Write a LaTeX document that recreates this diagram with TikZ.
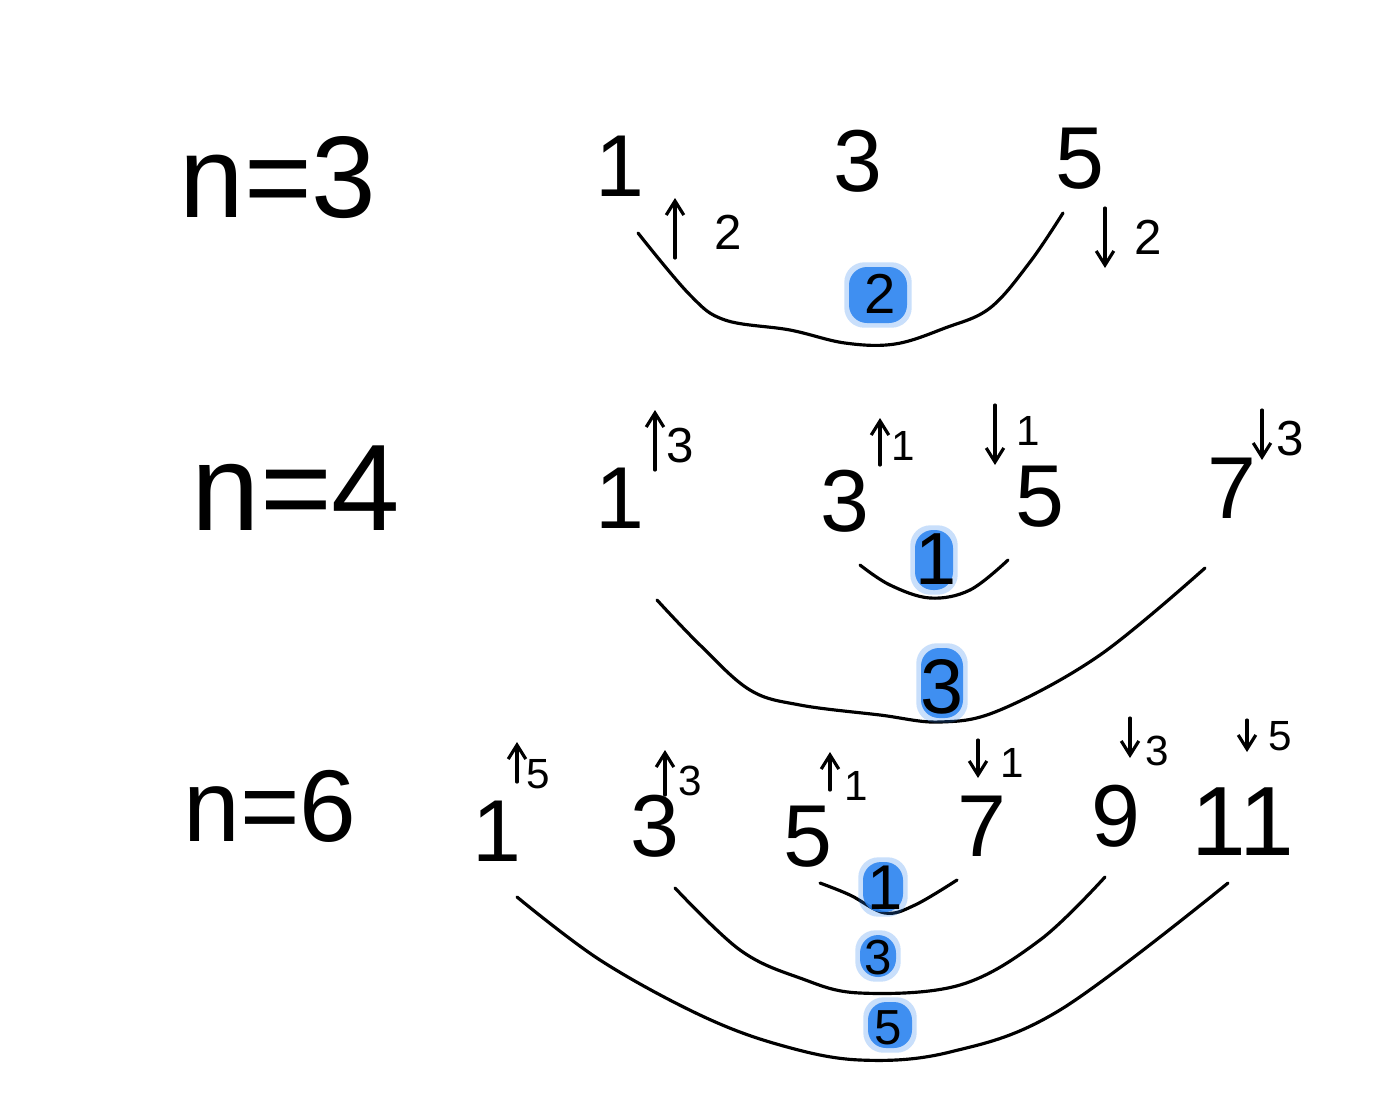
\documentclass[tikz,border=0pt]{standalone}
\usepackage{fontspec}
\setmainfont{Liberation Sans}
\usetikzlibrary{arrows.meta}
\definecolor{blobblue}{RGB}{40,130,240}
\tikzset{
  ink/.style={line width=0.9pt, line cap=round, line join=round},
  big/.style={font=\fontsize{33}{33}\selectfont, inner sep=0pt, text height=24pt, text depth=0pt},
  num/.style={font=\fontsize{25}{25}\selectfont, inner sep=0pt, text height=18pt, text depth=0pt},
  small/.style={font=\fontsize{12}{12}\selectfont, inner sep=0pt, text height=8.6pt, text depth=0pt},
  bnum/.style={inner sep=0pt, text depth=0pt},
  arr/.style={ink, -{Straight Barb[length=4pt,width=5pt]}},
  blob/.style={fill=blobblue, fill opacity=0.85, draw=none, rounded corners=18*0.01cm, inner sep=0pt,
    append after command={\pgfextra{\fill[blobblue, opacity=0.25, rounded corners=20*0.01cm]
      ([shift={(-4,4)}]\tikzlastnode.south west) rectangle ([shift={(4,-4)}]\tikzlastnode.north east);}}}
}
\begin{document}
\begin{tikzpicture}[x=0.01cm, y=-0.01cm]
\useasboundingbox (0,0) rectangle (1400,1099);
\fill[white] (0,0) rectangle (1400,1099);

% ---------- n = 3 ----------
\node[big] (n3) at (278,175) {n=3};
\node[num] (r1a) at (620,165) {1};
\node[num] (r1b) at (858,160) {3};
\node[num] (r1c) at (1080,157) {5};
\coordinate (r1u1) at (675,258); \coordinate (r1u2) at (675,198);
\draw[arr] (r1u1) -- (r1u2);
\node[small, font=\fontsize{14}{14}\selectfont, text height=10pt] (r1l1) at (728,232) {2};
\coordinate (r1d1) at (1105,208); \coordinate (r1d2) at (1105,268);
\draw[arr] (r1d1) -- (r1d2);
\node[small, font=\fontsize{14}{14}\selectfont, text height=10pt] (r1l2) at (1148,237) {2};
\draw[ink] plot[smooth, tension=0.6] coordinates {(638,233) (690,295) (725,320) (790,330) (845,343) (895,344) (945,328) (990,308) (1030,262) (1063,213)};
\node[blob, minimum width=58*0.01cm, minimum height=56*0.01cm] (b1) at (878,295) {};
\node[bnum, font=\fontsize{16}{16}\selectfont, text height=11.5pt] (b1t) at (880,293) {2};

% ---------- n = 4 ----------
\node[big, font=\fontsize{35}{35}\selectfont, text height=25pt] (n4) at (296,487) {n=4};
\node[num] (r2a) at (620,497) {1};
\node[num] (r2b) at (845,500) {3};
\node[num] (r2c) at (1040,495) {5};
\node[num] (r2d) at (1232,487) {7};
\coordinate (r2u1) at (655,470); \coordinate (r2u2) at (655,410);
\draw[arr] (r2u1) -- (r2u2);
\node[small, font=\fontsize{14}{14}\selectfont, text height=10pt] (r2l1) at (680,445) {3};
\coordinate (r2u3) at (880,465); \coordinate (r2u4) at (880,418);
\draw[arr] (r2u3) -- (r2u4);
\node[small] (r2l2) at (903,445) {1};
\coordinate (r2d1) at (995,405); \coordinate (r2d2) at (995,465);
\draw[arr] (r2d1) -- (r2d2);
\node[small] (r2l3) at (1028,430) {1};
\coordinate (r2d3) at (1262,410); \coordinate (r2d4) at (1262,460);
\draw[arr] (r2d3) -- (r2d4);
\node[small, font=\fontsize{14}{14}\selectfont, text height=10pt] (r2l4) at (1290,438) {3};
\draw[ink] plot[smooth, tension=0.6] coordinates {(860,565) (890,585) (930,598) (970,590) (1008,560)};
\draw[ink] plot[smooth, tension=0.6] coordinates {(657,600) (700,645) (750,690) (800,705) (880,715) (940,722) (1000,710) (1100,655) (1205,568)};
\node[blob, minimum width=38*0.01cm, minimum height=60*0.01cm] (b2) at (934,560) {};
\node[bnum, font=\fontsize{21}{21}\selectfont, text height=15pt] (b2t) at (936,558) {1};
\node[blob, minimum width=42*0.01cm, minimum height=70*0.01cm] (b3) at (942,683) {};
\node[bnum, font=\fontsize{22}{22}\selectfont, text height=15.8pt] (b3t) at (942,686) {3};

% ---------- n = 6 ----------
\node[big, font=\fontsize{29}{29}\selectfont, text height=21pt] (n6) at (270,805) {n=6};
\node[num] (r3a) at (497,830) {1};
\node[num] (r3b) at (655,825) {3};
\node[num] (r3c) at (808,835) {5};
\node[num] (r3d) at (982,825) {7};
\node[num] (r3e) at (1116,815) {9};
\node[num, font=\fontsize{28}{28}\selectfont, text height=20pt] (r3f) at (1243,820) {11};
\coordinate (r3u1) at (517,782); \coordinate (r3u2) at (517,742);
\draw[arr] (r3u1) -- (r3u2);
\node[small] (r3l1) at (538,773) {5};
\coordinate (r3u3) at (665,795); \coordinate (r3u4) at (665,750);
\draw[arr] (r3u3) -- (r3u4);
\node[small] (r3l2) at (690,780) {3};
\coordinate (r3u5) at (830,790); \coordinate (r3u6) at (830,752);
\draw[arr] (r3u5) -- (r3u6);
\node[small] (r3l3) at (856,785) {1};
\coordinate (r3d1) at (978,740); \coordinate (r3d2) at (978,778);
\draw[arr] (r3d1) -- (r3d2);
\node[small] (r3l4) at (1012,762) {1};
\coordinate (r3d3) at (1130,718); \coordinate (r3d4) at (1130,758);
\draw[arr] (r3d3) -- (r3d4);
\node[small] (r3l5) at (1157,750) {3};
\coordinate (r3d5) at (1247,720); \coordinate (r3d6) at (1247,752);
\draw[arr] (r3d5) -- (r3d6);
\node[small] (r3l6) at (1280,735) {5};
\draw[ink] plot[smooth, tension=0.6] coordinates {(820,883) (850,895) (885,913) (915,905) (957,880)};
\draw[ink] plot[smooth, tension=0.6] coordinates {(675,888) (740,950) (800,978) (860,993) (960,985) (1040,940) (1105,877)};
\draw[ink] plot[smooth, tension=0.6] coordinates {(517,897) (600,960) (700,1015) (780,1045) (860,1060) (950,1052) (1060,1010) (1228,883)};
\node[blob, minimum width=40*0.01cm, minimum height=50*0.01cm] (b4) at (883,887) {};
\node[bnum, font=\fontsize{18}{18}\selectfont, text height=13pt] (b4t) at (885,887) {1};
\node[blob, minimum width=36*0.01cm, minimum height=42*0.01cm] (b5) at (878,956) {};
\node[bnum, font=\fontsize{14}{14}\selectfont, text height=10pt] (b5t) at (878,957) {3};
\node[blob, minimum width=44*0.01cm, minimum height=46*0.01cm] (b6) at (890,1025) {};
\node[bnum, font=\fontsize{14}{14}\selectfont, text height=10pt] (b6t) at (888,1027) {5};
\end{tikzpicture}
\end{document}
